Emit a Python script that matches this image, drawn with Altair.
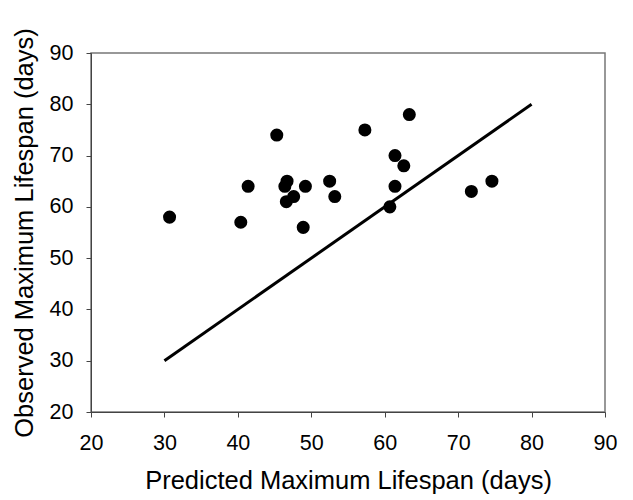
import altair as alt
import pandas as pd

predicted = [30.7, 40.4, 41.4, 45.3, 46.7, 46.4, 47.6, 46.6, 49.2, 48.9,
             52.5, 53.2, 57.3, 60.7, 61.4, 61.4, 62.6, 63.35, 71.8, 74.6]
observed = [58, 57, 64, 74, 65, 64, 62, 61, 64, 56,
            65, 62, 75, 60, 64, 70, 68, 78, 63, 65]
line_x = [30, 80]
line_y = [30, 80]

pts = pd.DataFrame({"x": predicted, "y": observed})
ln = pd.DataFrame({"x": line_x, "y": line_y})

font = "Liberation Sans"
xscale = alt.Scale(domain=[20, 90], nice=False, zero=False)
yscale = alt.Scale(domain=[20, 90], nice=False, zero=False)

xaxis = alt.Axis(title="Predicted Maximum Lifespan (days)", values=list(range(20, 91, 10)),
                 grid=False, tickSize=5, labelFontSize=21.5, titleFontSize=25.5,
                 labelFont=font, titleFont=font, titleFontWeight="normal",
                 labelColor="black", titleColor="black", domainColor="#444",
                 tickColor="#444", labelPadding=15, titlePadding=15,
                 labelFlush=False, labelOverlap=False)
yaxis = alt.Axis(title="Observed Maximum Lifespan (days)", values=list(range(20, 91, 10)),
                 grid=False, tickSize=5, labelFontSize=21.5, titleFontSize=25.5,
                 labelFont=font, titleFont=font, titleFontWeight="normal",
                 labelColor="black", titleColor="black", domainColor="#444",
                 tickColor="#444", labelPadding=13, titlePadding=12,
                 labelFlush=False, labelOverlap=False)

line = alt.Chart(ln).mark_line(color="black", strokeWidth=3).encode(
    x=alt.X("x:Q", scale=xscale, axis=xaxis),
    y=alt.Y("y:Q", scale=yscale, axis=yaxis),
)
points = alt.Chart(pts).mark_circle(color="black", opacity=1, size=170).encode(
    x=alt.X("x:Q", scale=xscale),
    y=alt.Y("y:Q", scale=yscale),
)

chart = alt.layer(line, points).properties(
    width=514, height=359,
    autosize=alt.AutoSizeParams(type="none"),
    padding={"left": 83, "top": 45, "right": 20, "bottom": 88},
    background="white",
).configure_view(stroke="#777", strokeWidth=1.5)

chart.save("out.html", embed_options={"renderer": "svg", "actions": False})
